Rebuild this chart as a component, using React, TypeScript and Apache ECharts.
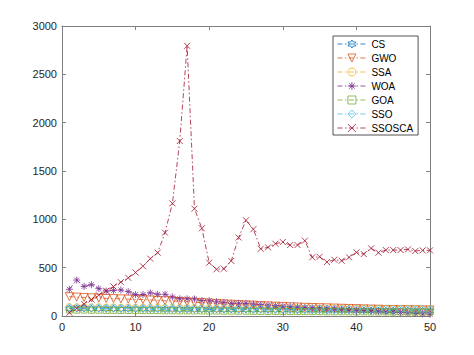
import React, { useEffect, useRef } from "react";
import * as echarts from "echarts";

const iterations = [1,2,3,4,5,6,7,8,9,10,11,12,13,14,15,16,17,18,19,20,21,22,23,24,25,26,27,28,29,30,31,32,33,34,35,36,37,38,39,40,41,42,43,44,45,46,47,48,49,50];

const csValues = [78,76,77,75,76,74,75,73,74,72,73,71,72,70,71,69,70,68,69,67,68,66,67,65,66,64,65,63,64,62,63,61,62,60,61,59,60,58,59,57,58,56,57,55,56,54,55,53,54,52];
const gwoValues = [200,195,192,188,185,182,180,177,175,172,170,166,162,158,155,150,146,142,138,134,130,126,122,118,115,112,108,105,102,99,96,93,90,88,86,84,82,80,78,76,74,72,70,68,67,66,65,64,63,62];
const ssaValues = [92,90,91,89,90,88,89,87,88,86,87,85,86,84,85,84,84,83,83,82,82,81,81,80,80,79,79,78,78,77,77,77,76,76,76,75,75,75,74,74,74,73,73,73,72,72,72,71,71,71];
const woaValues = [276,372,306,324,283,258,265,269,252,222,222,240,225,225,197,178,178,176,160,158,148,141,132,131,131,124,118,112,108,102,98,92,88,84,80,75,72,68,64,60,56,52,48,44,40,36,32,28,22,18];
const goaValues = [62,60,61,59,60,58,58,57,57,56,56,55,55,54,54,53,53,52,52,51,51,50,50,49,49,48,48,47,47,46,46,46,45,45,45,44,44,44,43,43,43,42,42,42,41,41,41,40,40,40];
const ssoValues = [86,85,85,84,84,83,83,82,82,81,81,80,80,80,79,79,79,78,78,78,77,77,77,76,76,76,75,75,75,74,74,74,73,73,73,72,72,72,71,71,71,70,70,70,69,69,69,68,68,68];
const ssoscaValues = [34,80,125,170,215,262,305,350,395,450,515,593,655,862,1165,1810,2795,1110,907,551,483,489,570,812,990,898,695,710,748,765,734,734,779,607,612,558,582,572,607,658,641,700,655,682,682,682,689,672,679,679];

const xTicks = [0, 10, 20, 30, 40, 50];
const yTicks = [0, 500, 1000, 1500, 2000, 2500, 3000];

const starPath = "path://M5,0L5,10M0,5L10,5M1.5,1.5L8.5,8.5M8.5,1.5L1.5,8.5";
const crossPath = "path://M1,1L9,9M9,1L1,9";
const hexPath = "path://M5,0L6.44,2.5L9.33,2.5L7.89,5L9.33,7.5L6.44,7.5L5,10L3.56,7.5L0.67,7.5L2.11,5L0.67,2.5L3.56,2.5Z";

const seriesDefs = [
  { name: "CS", data: csValues, color: "#0072BD", symbol: hexPath, rotate: 0, size: 7 },
  { name: "GWO", data: gwoValues, color: "#D95319", symbol: "triangle", rotate: 180, size: 8 },
  { name: "SSA", data: ssaValues, color: "#EDB120", symbol: "circle", rotate: 0, size: 7 },
  { name: "WOA", data: woaValues, color: "#7E2F8E", symbol: starPath, rotate: 0, size: 7 },
  { name: "GOA", data: goaValues, color: "#77AC30", symbol: "rect", rotate: 0, size: 6 },
  { name: "SSO", data: ssoValues, color: "#4DBEEE", symbol: "diamond", rotate: 0, size: 8 },
  { name: "SSOSCA", data: ssoscaValues, color: "#A2142F", symbol: crossPath, rotate: 0, size: 6 },
];

const FONT = "'Liberation Sans', Arial, Helvetica, sans-serif";
const AXIS_COLOR = "#808080";
const LABEL_COLOR = "#262626";
const DASH = [5, 2.5, 1.5, 2.5];

export default function App() {
  const ref = useRef<HTMLDivElement>(null);
  useEffect(() => {
    if (!ref.current) return;
    const chart = echarts.init(ref.current, undefined, { renderer: "svg" });
    const axisCommon = {
      type: "value" as const,
      axisLine: { show: true, onZero: false, lineStyle: { color: AXIS_COLOR, width: 1 } },
      axisTick: { show: true, inside: true, length: 4, lineStyle: { color: AXIS_COLOR } },
      splitLine: { show: false },
    };
    const labelCommon = {
      color: LABEL_COLOR,
      fontSize: 11,
      fontFamily: FONT,
      margin: 5,
      formatter: (v: number) => String(v),
    };
    chart.setOption({
      animation: false,
      backgroundColor: "#ffffff",
      grid: { left: 62, right: 44, top: 26, bottom: 39, containLabel: false },
      xAxis: [
        {
          ...axisCommon,
          min: xTicks[0],
          max: xTicks[xTicks.length - 1],
          interval: 10,
          position: "bottom",
          axisLabel: labelCommon,
        },
        {
          ...axisCommon,
          min: xTicks[0],
          max: xTicks[xTicks.length - 1],
          interval: 10,
          position: "top",
          axisLabel: { show: false },
        },
      ],
      yAxis: [
        {
          ...axisCommon,
          min: yTicks[0],
          max: yTicks[yTicks.length - 1],
          interval: 500,
          position: "left",
          axisLabel: labelCommon,
        },
        {
          ...axisCommon,
          min: yTicks[0],
          max: yTicks[yTicks.length - 1],
          interval: 500,
          position: "right",
          axisLabel: { show: false },
        },
      ],
      legend: {
        orient: "vertical",
        left: 333,
        top: 36,
        itemWidth: 29,
        itemHeight: 10,
        itemGap: 4,
        padding: [3, 5, 2, 4],
        borderColor: "#262626",
        borderWidth: 0.8,
        backgroundColor: "#ffffff",
        textStyle: { fontSize: 10, fontFamily: FONT, color: "#000000", lineHeight: 10 },
        data: seriesDefs.map((s) => ({
          name: s.name,
          itemStyle: { color: "rgba(255,255,255,0)", borderColor: s.color, borderWidth: 0.8 },
          lineStyle: { color: s.color, width: 0.8, type: DASH },
        })),
      },
      series: seriesDefs.map((s) => ({
        name: s.name,
        type: "line",
        xAxisIndex: 0,
        yAxisIndex: 0,
        data: s.data.map((v, i) => [iterations[i], v]),
        symbol: s.symbol,
        symbolSize: s.size,
        symbolRotate: s.rotate,
        showAllSymbol: true,
        color: s.color,
        lineStyle: { color: s.color, width: 0.8, type: DASH },
        itemStyle: { color: "rgba(255,255,255,0)", borderColor: s.color, borderWidth: 0.8 },
        emphasis: { disabled: true },
        z: 2,
      })),
    });
    return () => chart.dispose();
  }, []);
  return (
    <div
      ref={ref}
      style={{ position: "fixed", left: 0, top: 0, width: 474, height: 355, background: "#fff" }}
    />
  );
}
